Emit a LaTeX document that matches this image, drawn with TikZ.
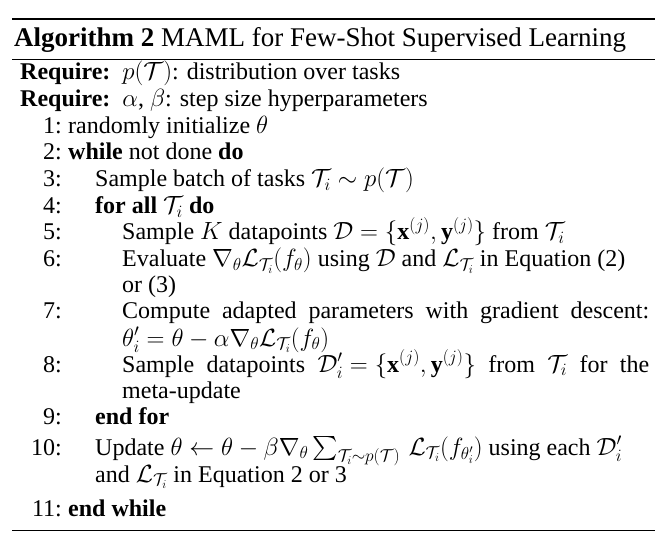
\documentclass[tikz,border=0pt]{standalone}
\usepackage{fontspec}
\usepackage{amsmath,amssymb}
\setmainfont{Liberation Serif}
\begin{document}
\begin{tikzpicture}[x=1pt,y=-1pt,
  ln/.style={anchor=base east,inner sep=0pt},
  tx/.style={anchor=base west,inner sep=0pt}]
\useasboundingbox (0,0) rectangle (670,540);
\fontsize{24}{28}\selectfont
\draw[line width=1.6pt] (12,19) -- (655,19);
\draw[line width=0.8pt] (12,59) -- (655,59);
\draw[line width=0.8pt] (12,530) -- (655,530);
\node[tx] (title) at (14,47) {\fontsize{27}{30}\selectfont\textbf{Algorithm 2} MAML for Few-Shot Supervised Learning};
\node[tx] (r1) at (20,80) {\textbf{Require:}\ \ $p(\mathcal{T})$: distribution over tasks};
\node[tx] (r2) at (20,107) {\textbf{Require:}\ \ $\alpha$, $\beta$: step size hyperparameters};
\node[ln] (n1) at (62,134) {1:}; \node[tx] (t1) at (68,134) {randomly initialize $\theta$};
\node[ln] (n2) at (62,160) {2:}; \node[tx] (t2) at (68,160) {\textbf{while} not done \textbf{do}};
\node[ln] (n3) at (62,187) {3:}; \node[tx] (t3) at (95,187) {Sample batch of tasks $\mathcal{T}_i\sim p(\mathcal{T})$};
\node[ln] (n4) at (62,214) {4:}; \node[tx] (t4) at (95,214) {\textbf{for all} $\mathcal{T}_i$ \textbf{do}};
\node[ln] (n5) at (62,240) {5:}; \node[tx] (t5) at (122,240) {Sample $K$ datapoints $\mathcal{D}=\{\mathbf{x}^{(j)},\mathbf{y}^{(j)}\}$ from $\mathcal{T}_i$};
\node[ln] (n6) at (62,267) {6:}; \node[tx] (t6) at (122,267) {Evaluate $\nabla_\theta\mathcal{L}_{\mathcal{T}_i}(f_\theta)$ using $\mathcal{D}$ and $\mathcal{L}_{\mathcal{T}_i}$ in Equation (2)};
\node[tx] (t6b) at (122,293) {or (3)};
\node[ln] (n7) at (62,319) {7:}; \node[tx] (t7) at (122,319) {\makebox[527pt][s]{Compute adapted parameters with gradient descent:}};
\node[tx] (t7b) at (122,346) {$\theta_i'=\theta-\alpha\nabla_\theta\mathcal{L}_{\mathcal{T}_i}(f_\theta)$};
\node[ln] (n8) at (62,372) {8:}; \node[tx] (t8) at (122,372) {\makebox[527pt][s]{Sample datapoints ${\mathcal{D}_i'=\{\mathbf{x}^{(j)},\mathbf{y}^{(j)}\}}$ from $\mathcal{T}_i$ for the}};
\node[tx] (t8b) at (122,398) {meta-update};
\node[ln] (n9) at (62,424) {9:}; \node[tx] (t9) at (95,424) {\textbf{end for}};
\node[ln] (n10) at (62,455) {10:}; \node[tx] (t10) at (95,455) {Update $\theta\leftarrow\theta-\beta\nabla_\theta\sum_{\mathcal{T}_i\sim p(\mathcal{T})}\,\mathcal{L}_{\mathcal{T}_i}(f_{\theta_i'})$ using each $\mathcal{D}_i'$};
\node[tx] (t10b) at (95,482) {and $\mathcal{L}_{\mathcal{T}_i}$ in Equation 2 or 3};
\node[ln] (n11) at (62,516) {11:}; \node[tx] (t11) at (68,516) {\textbf{end while}};
\end{tikzpicture}
\end{document}
